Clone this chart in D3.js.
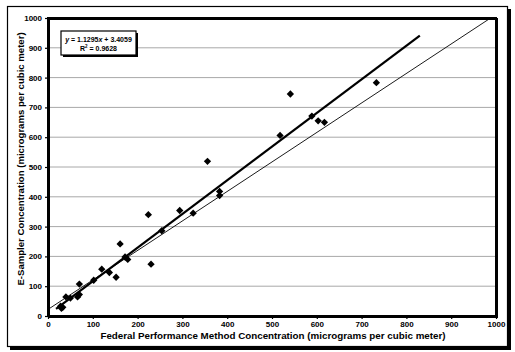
<!DOCTYPE html>
<html>
<head>
<meta charset="utf-8">
<script src="https://cdn.jsdelivr.net/npm/d3@7"></script>
<style>
  body { margin: 0; background: #fff; }
  text { font-family: "Liberation Sans", Arial, sans-serif; font-weight: bold; }
</style>
</head>
<body>
<div class="root"></div>
<script>
// Federal Performance Method (x) vs E-Sampler (y), micrograms per cubic meter
const fpm = [28, 30, 33, 40, 50, 66, 70, 70, 102, 120, 137, 152, 161, 172, 178, 224, 230, 254, 294, 324, 356, 383, 383, 518, 541, 589, 603, 617, 733];
const esampler = [33, 26, 29, 64, 60, 64, 72, 107, 120, 157, 146, 130, 242, 198, 190, 340, 174, 286, 354, 345, 519, 418, 404, 606, 745, 671, 655, 650, 783];
const ticks = [0, 100, 200, 300, 400, 500, 600, 700, 800, 900, 1000];
const slope = 1.1295;
const intercept = 3.4059;
const fitRange = [18, 830];
const refLine = [[0, 22], [988, 1000]];

const width = 515;
const height = 352;
const plot = { left: 48, top: 18, right: 496, bottom: 316 };

const svg = d3.select("div.root").append("svg")
  .attr("width", width)
  .attr("height", height);

// outer frame with shadow
svg.append("rect").attr("x", 10).attr("y", 9).attr("width", 501).attr("height", 341).attr("fill", "#000");
svg.append("rect").attr("x", 7.5).attr("y", 6.5).attr("width", 500).attr("height", 340)
  .attr("fill", "#fff").attr("stroke", "#000").attr("stroke-width", 1.2);

const x = d3.scaleLinear().domain([0, 1000]).range([plot.left, plot.right]);
const y = d3.scaleLinear().domain([0, 1000]).range([plot.bottom, plot.top]);

// gridlines
svg.append("g").selectAll("line")
  .data(ticks.slice(1, -1))
  .enter().append("line")
  .attr("x1", plot.left).attr("x2", plot.right)
  .attr("y1", d => y(d)).attr("y2", d => y(d))
  .attr("stroke", "#a8a8a8").attr("stroke-width", 1);

// axes
const xAxis = d3.axisBottom(x).tickValues(ticks).tickFormat(d3.format("d")).tickSize(3).tickPadding(2);
const yAxis = d3.axisLeft(y).tickValues(ticks).tickFormat(d3.format("d")).tickSize(3).tickPadding(3);

const gx = svg.append("g").attr("transform", `translate(0,${plot.bottom})`).call(xAxis);
const gy = svg.append("g").attr("transform", `translate(${plot.left},0)`).call(yAxis);
[gx, gy].forEach(g => {
  g.select(".domain").remove();
  g.selectAll(".tick line").attr("stroke", "#000").attr("stroke-width", 1.2);
  g.selectAll(".tick text").attr("font-size", 8).attr("font-weight", "bold")
    .attr("font-family", "Liberation Sans, Arial, sans-serif").attr("fill", "#000");
});

// plot border with slight shadow
svg.append("rect").attr("x", plot.left + 1).attr("y", plot.top + 1)
  .attr("width", plot.right - plot.left).attr("height", plot.bottom - plot.top)
  .attr("fill", "none").attr("stroke", "#000").attr("stroke-width", 2);
svg.append("rect").attr("x", plot.left).attr("y", plot.top)
  .attr("width", plot.right - plot.left).attr("height", plot.bottom - plot.top)
  .attr("fill", "none").attr("stroke", "#000").attr("stroke-width", 2);

// 1:1 style reference line
svg.append("line")
  .attr("x1", x(refLine[0][0])).attr("y1", y(refLine[0][1]))
  .attr("x2", x(refLine[1][0])).attr("y2", y(refLine[1][1]))
  .attr("stroke", "#000").attr("stroke-width", 0.9);

// regression line
svg.append("line")
  .attr("x1", x(fitRange[0])).attr("y1", y(slope * fitRange[0] + intercept))
  .attr("x2", x(fitRange[1])).attr("y2", y(slope * fitRange[1] + intercept))
  .attr("stroke", "#000").attr("stroke-width", 2.2);

// points
const dataset = fpm.map((v, i) => [v, esampler[i]]);
svg.append("g").selectAll("path")
  .data(dataset)
  .enter().append("path")
  .attr("d", d3.symbol().type(d3.symbolDiamond2).size(34))
  .attr("transform", d => `translate(${x(d[0])},${y(d[1])})`)
  .attr("fill", "#000");

// equation box
svg.append("rect").attr("x", 63).attr("y", 33).attr("width", 75).attr("height", 24).attr("fill", "#000");
svg.append("rect").attr("x", 61).attr("y", 31).attr("width", 75).attr("height", 24)
  .attr("fill", "#fff").attr("stroke", "#000").attr("stroke-width", 1.2);
const eq = svg.append("text").attr("x", 98.5).attr("y", 41.5).attr("text-anchor", "middle").attr("font-size", 7);
eq.append("tspan").attr("font-style", "italic").text("y");
eq.append("tspan").text(` = ${slope}`);
eq.append("tspan").attr("font-style", "italic").text("x");
eq.append("tspan").text(` + ${intercept}`);
const r2 = svg.append("text").attr("x", 98.5).attr("y", 51).attr("text-anchor", "middle").attr("font-size", 7);
r2.append("tspan").text("R");
r2.append("tspan").attr("font-size", 4.5).attr("dy", -3).text("2");
r2.append("tspan").attr("dy", 3).text(" = 0.9628");

// axis titles
svg.append("text")
  .attr("x", (plot.left + plot.right) / 2 + 1).attr("y", 339)
  .attr("text-anchor", "middle").attr("font-size", 9.8)
  .text("Federal Performance Method Concentration (micrograms per cubic meter)");
svg.append("text")
  .attr("transform", "translate(24,159) rotate(-90)")
  .attr("text-anchor", "middle").attr("font-size", 9.6)
  .text("E-Sampler Concentration (micrograms per cubic meter)");
</script>
</body>
</html>
